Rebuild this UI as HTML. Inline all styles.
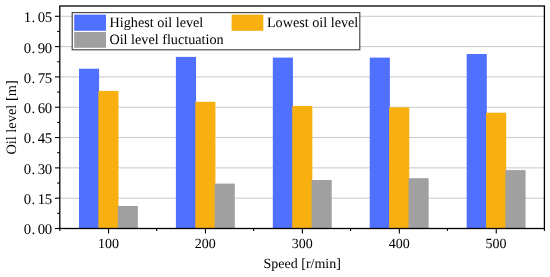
<!DOCTYPE html>
<html lang="en"><head><meta charset="utf-8"><title>Oil level vs speed</title>
<style>
html,body{margin:0;padding:0;background:#fff}
svg{display:block}
text{text-rendering:geometricPrecision;font-family:"Liberation Serif","Times New Roman",serif;font-size:14px;fill:#000}
</style></head><body>
<svg width="550" height="277" viewBox="0 0 550 277">
<rect width="550" height="277" fill="#fff"/>
<g stroke="#c8c8c8" stroke-width="1">
<line x1="59.8" x2="544.4" y1="198.19" y2="198.19"/>
<line x1="59.8" x2="544.4" y1="167.87" y2="167.87"/>
<line x1="59.8" x2="544.4" y1="137.56" y2="137.56"/>
<line x1="59.8" x2="544.4" y1="107.24" y2="107.24"/>
<line x1="59.8" x2="544.4" y1="76.93" y2="76.93"/>
<line x1="59.8" x2="544.4" y1="46.61" y2="46.61"/>
<line x1="59.8" x2="544.4" y1="16.29" y2="16.29"/>
</g>
<rect x="78.98" y="68.70" width="20.13" height="159.80" fill="#5070ff"/>
<rect x="98.37" y="90.90" width="20.13" height="137.60" fill="#f7b010"/>
<rect x="117.75" y="206.00" width="20.13" height="22.50" fill="#a0a0a0"/>
<rect x="175.90" y="56.90" width="20.13" height="171.60" fill="#5070ff"/>
<rect x="195.29" y="101.80" width="20.13" height="126.70" fill="#f7b010"/>
<rect x="214.67" y="183.60" width="20.13" height="44.90" fill="#a0a0a0"/>
<rect x="272.82" y="57.60" width="20.13" height="170.90" fill="#5070ff"/>
<rect x="292.21" y="106.00" width="20.13" height="122.50" fill="#f7b010"/>
<rect x="311.59" y="180.00" width="20.13" height="48.50" fill="#a0a0a0"/>
<rect x="369.74" y="57.60" width="20.13" height="170.90" fill="#5070ff"/>
<rect x="389.13" y="107.30" width="20.13" height="121.20" fill="#f7b010"/>
<rect x="408.51" y="178.20" width="20.13" height="50.30" fill="#a0a0a0"/>
<rect x="466.66" y="54.00" width="20.13" height="174.50" fill="#5070ff"/>
<rect x="486.05" y="112.70" width="20.13" height="115.80" fill="#f7b010"/>
<rect x="505.43" y="170.10" width="20.13" height="58.40" fill="#a0a0a0"/>
<rect x="59.8" y="6.0" width="484.60" height="222.50" fill="none" stroke="#000" stroke-width="1.3"/>
<g stroke="#000" stroke-width="1.1">
<line x1="55.0" x2="59.8" y1="228.50" y2="228.50"/>
<line x1="55.0" x2="59.8" y1="198.19" y2="198.19"/>
<line x1="55.0" x2="59.8" y1="167.87" y2="167.87"/>
<line x1="55.0" x2="59.8" y1="137.56" y2="137.56"/>
<line x1="55.0" x2="59.8" y1="107.24" y2="107.24"/>
<line x1="55.0" x2="59.8" y1="76.93" y2="76.93"/>
<line x1="55.0" x2="59.8" y1="46.61" y2="46.61"/>
<line x1="55.0" x2="59.8" y1="16.29" y2="16.29"/>
<line x1="57.199999999999996" x2="59.8" y1="213.34" y2="213.34"/>
<line x1="57.199999999999996" x2="59.8" y1="183.03" y2="183.03"/>
<line x1="57.199999999999996" x2="59.8" y1="152.71" y2="152.71"/>
<line x1="57.199999999999996" x2="59.8" y1="122.40" y2="122.40"/>
<line x1="57.199999999999996" x2="59.8" y1="92.08" y2="92.08"/>
<line x1="57.199999999999996" x2="59.8" y1="61.77" y2="61.77"/>
<line x1="57.199999999999996" x2="59.8" y1="31.45" y2="31.45"/>
<line x1="108.56" x2="108.56" y1="228.5" y2="233.4"/>
<line x1="205.48" x2="205.48" y1="228.5" y2="233.4"/>
<line x1="302.40" x2="302.40" y1="228.5" y2="233.4"/>
<line x1="399.32" x2="399.32" y1="228.5" y2="233.4"/>
<line x1="496.24" x2="496.24" y1="228.5" y2="233.4"/>
<line x1="59.80" x2="59.80" y1="228.5" y2="230.9"/>
<line x1="156.72" x2="156.72" y1="228.5" y2="230.9"/>
<line x1="253.64" x2="253.64" y1="228.5" y2="230.9"/>
<line x1="350.56" x2="350.56" y1="228.5" y2="230.9"/>
<line x1="447.48" x2="447.48" y1="228.5" y2="230.9"/>
<line x1="544.40" x2="544.40" y1="228.5" y2="230.9"/>
</g>
<text x="23.8 31.4 37.8 44.8" y="234.40" style="font-size:14.8px">0.00</text>
<text x="23.8 31.4 37.8 44.8" y="204.09" style="font-size:14.8px">0.15</text>
<text x="23.8 31.4 37.8 44.8" y="173.77" style="font-size:14.8px">0.30</text>
<text x="23.8 31.4 37.8 44.8" y="143.46" style="font-size:14.8px">0.45</text>
<text x="23.8 31.4 37.8 44.8" y="113.14" style="font-size:14.8px">0.60</text>
<text x="23.8 31.4 37.8 44.8" y="82.83" style="font-size:14.8px">0.75</text>
<text x="23.8 31.4 37.8 44.8" y="52.51" style="font-size:14.8px">0.90</text>
<text x="23.8 31.4 37.8 44.8" y="22.19" style="font-size:14.8px">1.05</text>
<text x="108.41" y="247.7" text-anchor="middle">100</text>
<text x="205.33" y="247.7" text-anchor="middle">200</text>
<text x="302.25" y="247.7" text-anchor="middle">300</text>
<text x="399.17" y="247.7" text-anchor="middle">400</text>
<text x="496.09" y="247.7" text-anchor="middle">500</text>
<text x="302.2" y="268" text-anchor="middle">Speed [r/min]</text>
<text transform="translate(15.5 117.45) rotate(-90)" text-anchor="middle" style="font-size:14.4px">Oil level [m]</text>
<rect x="72.2" y="12.6" width="287.6" height="37.2" fill="#fff" stroke="#3c3c3c" stroke-width="1.1"/>
<rect x="74.2" y="14.6" width="31.8" height="16.2" fill="#5070ff"/>
<rect x="74.2" y="32" width="31.8" height="15.8" fill="#a0a0a0"/>
<rect x="231.6" y="14.6" width="31.7" height="16.2" fill="#f7b010"/>
<text x="109.5" y="27.2" style="font-size:14.2px">Highest oil level</text>
<text x="109.4" y="44.1" style="font-size:14.2px">Oil level fluctuation</text>
<text x="266.9" y="27.2" style="font-size:14.2px">Lowest oil level</text>
</svg></body></html>
